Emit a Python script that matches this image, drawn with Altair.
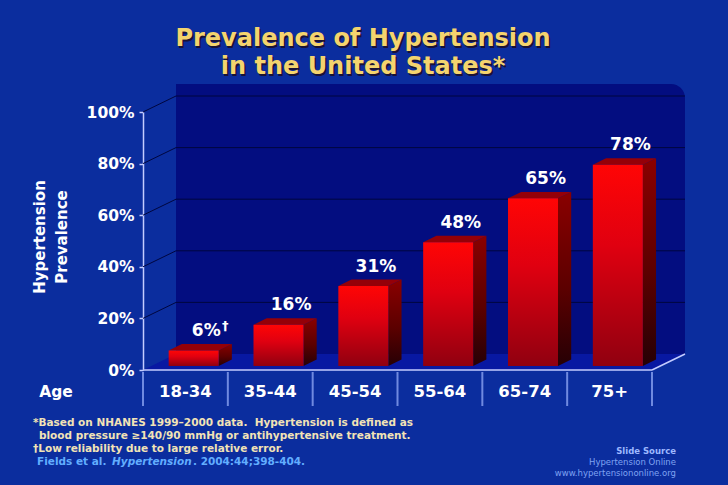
import altair as alt
import pandas as pd

# ---- data -------------------------------------------------------------
ages = ["18-34", "35-44", "45-54", "55-64", "65-74", "75+"]
prevalence = [6, 16, 31, 48, 65, 78]
value_labels = ["6%", "16%", "31%", "48%", "65%", "78%"]
label_notes = ["\u2020", "", "", "", "", ""]
y_ticks = [0, 20, 40, 60, 80, 100]

title_lines = ["Prevalence of Hypertension", "in the United States*"]
y_title_lines = ["Hypertension", "Prevalence"]
footnotes = [
    "*Based on NHANES 1999\u20132000 data.\u00a0 Hypertension is defined as",
    "blood pressure \u2265140/90 mmHg or antihypertensive treatment.",
    "\u2020Low reliability due to large relative error.",
]
footnote_indent = [0, 6, 0]
source_lines = ["Slide Source", "Hypertension Online", "www.hypertensiononline.org"]

# ---- geometry of the pseudo-3D plot --------------------------------------
W, H = 509, 258                # plot area in pixels
PX_X = 6 / W                   # x data units per pixel
PX_Y = 100 / H                 # y data units per pixel
DEPTH_X = 33 * PX_X            # receding depth of floor / back wall
DEPTH_Y = 16 * PX_Y
BAR_W = 50 * PX_X
FRONT = 0.25                   # bar front face position inside the depth
THICK = 0.40                   # bar thickness as share of the depth

FONT = "DejaVu Sans"
BG = "#0b2d9e"
WALL = "#030d80"
FLOOR = "#0818a2"
GRID = "#00063f"
EDGE = "#c4ccff"

xs = alt.Scale(domain=[0, 6], nice=False, zero=False)
ys = alt.Scale(domain=[0, 100], nice=False, zero=False)

# one shared y axis definition for every layer
Y_AXIS = alt.Axis(
    values=y_ticks, labelExpr="datum.value + '%'", title=None,
    labelFont=FONT, labelFontWeight="bold", labelFontSize=15.5,
    labelColor="white", labelPadding=5, domainColor=EDGE,
    domainWidth=1.5, tickColor=EDGE, tickSize=4, tickWidth=1.5,
    grid=False)


def X(field):
    return alt.X(field, scale=xs, axis=None)


def Y(field):
    return alt.Y(field, scale=ys, axis=Y_AXIS)


front_rows, side_rows, top_rows, label_rows = [], [], [], []
bx, by = THICK * DEPTH_X, THICK * DEPTH_Y
for i, (age, v) in enumerate(zip(ages, prevalence)):
    xl = i + 0.5 - BAR_W / 2 + FRONT * DEPTH_X
    xr = xl + BAR_W
    base = FRONT * DEPTH_Y
    top = v + base
    front_rows.append(dict(age=age, x=xl, x2=xr, y=base, y2=top))
    side_rows += [
        dict(age=age, x=xr, y=top, y2=base),
        dict(age=age, x=xr + bx, y=top + by, y2=base + by),
    ]
    top_rows += [
        dict(age=age, x=xl, y=top, y2=top),
        dict(age=age, x=xl + bx, y=top + by, y2=top),
        dict(age=age, x=xr, y=top + by, y2=top),
        dict(age=age, x=xr + bx, y=top + by, y2=top + by),
    ]
    label_rows.append(dict(age=age, x=(xl + xr + bx) / 2, y=top + by,
                           label=value_labels[i], note=label_notes[i]))

front_df = pd.DataFrame(front_rows)
side_df = pd.DataFrame(side_rows)
top_df = pd.DataFrame(top_rows)
label_df = pd.DataFrame(label_rows)

floor_df = pd.DataFrame([
    dict(x=0, y=0, y2=0),
    dict(x=DEPTH_X, y=0, y2=DEPTH_Y),
    dict(x=6, y=0, y2=DEPTH_Y),
    dict(x=6 + DEPTH_X, y=DEPTH_Y, y2=DEPTH_Y),
])
wall_df = pd.DataFrame([dict(x=DEPTH_X, x2=6 + DEPTH_X, y=DEPTH_Y,
                             y2=100 + DEPTH_Y + 12 * PX_Y)])
grid_df = pd.DataFrame([dict(t=t, x=DEPTH_X, x2=6 + DEPTH_X, y=t + DEPTH_Y,
                             x0=0, y0=t) for t in y_ticks[1:]])
edge_df = pd.DataFrame([
    dict(x=0, y=0, x2=6, y2=0),
    dict(x=6, y=0, x2=6 + DEPTH_X, y2=DEPTH_Y),
])
sep_df = pd.DataFrame({"x": list(range(len(ages) + 1))})
cat_df = pd.DataFrame({"age": ages, "x": [i + 0.5 for i in range(len(ages))]})

# ---- layers -------------------------------------------------------------
wall = alt.Chart(wall_df).mark_rect(color=WALL, cornerRadiusTopRight=14).encode(
    x=X("x:Q"), x2="x2", y=Y("y:Q"), y2="y2")

grid = alt.Chart(grid_df).mark_rule(color=GRID, strokeWidth=1).encode(
    x=X("x:Q"), x2="x2", y=Y("y:Q"))

diag = alt.Chart(grid_df).mark_rule(color=GRID, strokeWidth=1).encode(
    x=X("x0:Q"), x2="x", y=Y("y0:Q"), y2="y")

floor = alt.Chart(floor_df).mark_area(color=FLOOR, opacity=1).encode(
    x=X("x:Q"), y=Y("y:Q"), y2="y2")

edges = alt.Chart(edge_df).mark_rule(color=EDGE, strokeWidth=1.5).encode(
    x=X("x:Q"), x2="x2", y=Y("y:Q"), y2="y2")

side = alt.Chart(side_df).mark_area(
    color=alt.Gradient(gradient="linear", x1=0, x2=0, y1=0, y2=1, stops=[
        alt.GradientStop(color="#8a0000", offset=0),
        alt.GradientStop(color="#5c0000", offset=0.55),
        alt.GradientStop(color="#260005", offset=1)]),
    opacity=1).encode(
    x=X("x:Q"), y=Y("y:Q"), y2="y2", detail="age:N")

topface = alt.Chart(top_df).mark_area(color="#940008", opacity=1).encode(
    x=X("x:Q"), y=Y("y:Q"), y2="y2", detail="age:N")

front = alt.Chart(front_df).mark_rect(
    color=alt.Gradient(gradient="linear", x1=0, x2=0, y1=0, y2=1, stops=[
        alt.GradientStop(color="#ff0505", offset=0),
        alt.GradientStop(color="#e00010", offset=0.4),
        alt.GradientStop(color="#900010", offset=1)])).encode(
    x=X("x:Q"), x2="x2", y=Y("y:Q"), y2="y2")

labels = alt.Chart(label_df).mark_text(
    font=FONT, fontWeight="bold", fontSize=17, color="white",
    baseline="middle", dy=-13, dx=6).encode(
    x=X("x:Q"), y=Y("y:Q"), text="label:N")

notes = alt.Chart(label_df).mark_text(
    font=FONT, fontWeight="bold", fontSize=13, color="white",
    baseline="middle", dy=-18, dx=25).encode(
    x=X("x:Q"), y=Y("y:Q"), text="note:N")

seps = alt.Chart(sep_df).mark_rule(color="#93aaf5", strokeWidth=2,
                                   opacity=0.75).encode(
    x=X("x:Q"), y=alt.value(H + 2), y2=alt.value(H + 36))

cats = alt.Chart(cat_df).mark_text(
    font=FONT, fontWeight="bold", fontSize=16.5, color="white",
    baseline="middle").encode(
    x=X("x:Q"), y=alt.value(H + 22), text="age:N")


def txt(s, x, y, **kw):
    base = dict(font=FONT, fontWeight="bold", baseline="middle")
    base.update(kw)
    return alt.Chart(pd.DataFrame({"t": [s]})).mark_text(**base).encode(
        x=alt.value(x), y=alt.value(y), text="t:N")


title_layers = []
for k, line in enumerate(title_lines):
    yy = -73 + 28 * k
    title_layers.append(txt(line, 221.5, yy + 1.5, fontSize=24, color="#1a1236",
                            align="center"))
    title_layers.append(txt(line, 220, yy, fontSize=24, color="#f4d46e",
                            align="center"))

ytitle = [txt(s, -103 + 22 * k, 125, fontSize=15, color="white",
              align="center", angle=270)
          for k, s in enumerate(y_title_lines)]

age_lbl = txt("Age", -87, H + 22, fontSize=15.5, color="white", align="center")

foot = [txt(s, -110 + footnote_indent[k], 311 + 13 * k, fontSize=10.5,
            color="#f2e3b6", align="left") for k, s in enumerate(footnotes)]
cite_color = "#62adff"
cite = [
    txt("Fields et al.", -106, 350, fontSize=10.5, color=cite_color, align="left"),
    txt("Hypertension", -31, 350, fontSize=10.5, color=cite_color, align="left",
        fontStyle="italic"),
    txt(". 2004:44;398-404.", 50, 350, fontSize=10.5, color=cite_color,
        align="left"),
]
source = [
    txt(source_lines[0], 533, 339, fontSize=8.5, color="#9db8ff", align="right"),
    txt(source_lines[1], 533, 350, fontSize=8.5, color="#7fa2f2", align="right",
        fontWeight="normal"),
    txt(source_lines[2], 533, 361, fontSize=8.5, color="#7fa2f2", align="right",
        fontWeight="normal"),
]

chart = alt.layer(
    wall, grid, diag, floor, edges, side, topface, front, labels, notes,
    seps, cats, *title_layers, *ytitle, age_lbl, *foot, *cite, *source
).properties(
    width=W, height=H, background=BG,
    autosize=alt.AutoSizeParams(type="none"),
    padding={"left": 143, "top": 112, "right": 76, "bottom": 115},
).configure_view(stroke=None)

chart.save("out.html", embed_options={"renderer": "svg", "actions": False})
